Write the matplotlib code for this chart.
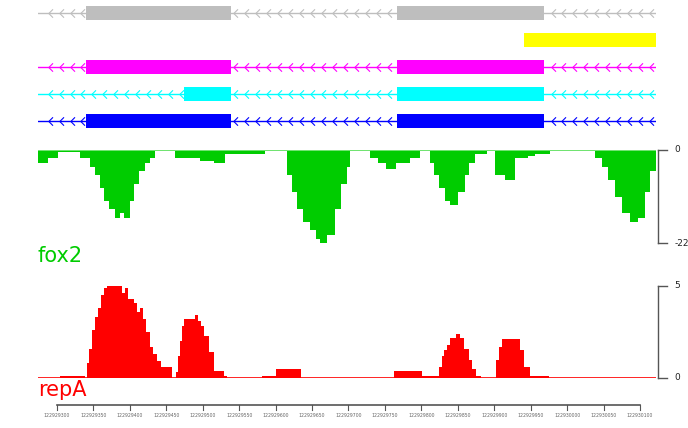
import numpy as np
import matplotlib
matplotlib.use("Agg")
import matplotlib.pyplot as plt
from matplotlib.path import Path

START = 122929300
XMIN, XMAX = -26, 822  # offsets from START

# gene models (offsets from START): exons
transcripts = [
    dict(color="#BEBEBE", exons=[(40, 239), (466, 669)], line=True),
    dict(color="#FFFF00", exons=[(641, 822)], line=False),
    dict(color="#FF00FF", exons=[(40, 239), (466, 669)], line=True),
    dict(color="#00FFFF", exons=[(174, 239), (466, 669)], line=True),
    dict(color="#0000FF", exons=[(40, 239), (466, 669)], line=True),
]

fox2_pos = [-26, -12, 1, 32, 45, 52, 59, 65, 72, 80, 86, 92, 100, 106, 112, 121, 128, 134, 162, 196, 215, 230, 285,
            316, 322, 330, 338, 347, 355, 361, 370, 381, 390, 398, 402, 429, 440, 452, 465, 484, 498, 512, 518, 524,
            532, 540, 550, 560, 566, 573, 590, 601, 615, 628, 646, 656, 676, 738, 748, 756, 766, 775, 786, 797, 807,
            814, 822]
fox2_val = [-3, -2, -0.4, -2, -4, -6, -9, -12, -14, -16, -15, -16, -12, -8, -5, -3, -2, -0.3, -2, -2.5, -3, -1, -0.3,
            -6, -10, -14, -17, -19, -21, -22, -20, -14, -8, -4, -0.3, -2, -3, -4.5, -3, -2, -0.3, -3, -6, -9,
            -12, -13, -10, -6, -3, -1, -0.3, -6, -7, -2, -1.5, -1, -0.3, -2, -4, -7, -11, -15, -17, -16, -10,
            -5, -5]

repA_pos = [4, 38, 41, 44, 48, 52, 56, 60, 64, 68, 89, 94, 97, 106, 110, 114, 118, 122, 127, 132, 137, 143, 158, 163,
            166, 169, 172, 174, 189, 193, 198, 202, 209, 215, 229, 233, 281, 300, 335, 462, 501, 524, 528, 531, 535,
            540, 548, 553, 558, 565, 570, 575, 582, 602, 606, 611, 636, 641, 649, 675, 822]
repA_val = [0.1, 0, 0.8, 1.6, 2.6, 3.3, 3.8, 4.5, 4.9, 5, 4.6, 4.9, 4.3, 4.1, 3.6, 3.8, 3.2, 2.5, 1.7, 1.3, 0.9, 0.6,
            0, 0.3, 1.2, 2.0, 2.8, 3.2, 3.4, 3.1, 2.8, 2.3, 1.4, 0.4, 0.1, 0, 0.1, 0.5, 0, 0.4, 0.1, 0.6, 1.2, 1.5,
            1.8, 2.2, 2.4, 2.2, 1.6, 1.0, 0.5, 0.1, 0, 1.0, 1.7, 2.1, 1.5, 0.6, 0.1, 0, 0]

tick_labels = [str(START + 50 * i) for i in range(17)]

W, H = 688, 428
fig = plt.figure(figsize=(W / 100, H / 100), dpi=100)

def ax_px(x0, y0, x1, y1):
    return fig.add_axes([x0 / W, 1 - y1 / H, (x1 - x0) / W, (y1 - y0) / H])

L, R = 38, 656
chev = Path([(0.6, 1), (-0.4, 0), (0.6, -1)], [Path.MOVETO, Path.LINETO, Path.LINETO])

# gene track
g = ax_px(L, 0, R, 135)
g.set_xlim(START + XMIN, START + XMAX)
g.set_ylim(135, 0)
g.axis("off")
rows_y = [13, 40, 67, 94, 121]
for t, y in zip(transcripts, rows_y):
    c = t["color"]
    if t["line"]:
        g.plot([START + XMIN, START + XMAX], [y, y], color=c, lw=1)
        xs = np.arange(XMIN + 16, XMAX, 15)
        xs = [x for x in xs if not any(a - 3 <= x <= b + 3 for a, b in t["exons"])]
        g.plot(START + np.array(xs), [y] * len(xs), ls="none", marker=chev, ms=6, mec=c, mfc="none", mew=0.8)
    for a, b in t["exons"]:
        g.add_patch(plt.Rectangle((START + a, y - 7), b - a, 14, color=c, lw=0))

# fox2
f = ax_px(L, 150, R, 243)
f.set_xlim(START + XMIN, START + XMAX)
f.set_ylim(-22, 0)
f.axis("off")
f.fill_between(START + np.array(fox2_pos), fox2_val, 0, step="post", color="#00CC00", lw=0)
f.axhline(0, color="#88E888", lw=1.2)
f.plot([1.003, 1.003], [0, -22], color="#555555", lw=1, transform=f.get_yaxis_transform(), clip_on=False)
for v in (0, -22):
    f.plot([1.003, 1.018], [v, v], color="#555555", lw=1, transform=f.get_yaxis_transform(), clip_on=False)
    f.text(1.03, v, str(v), transform=f.get_yaxis_transform(), fontsize=6.5, va="center", color="#222222")
fig.text(L / W, 1 - 256 / H, "fox2", color="#00CC00", fontsize=15, va="center", ha="left")

# repA
r = ax_px(L, 286, R, 378)
r.set_xlim(START + XMIN, START + XMAX)
r.set_ylim(0, 5)
r.axis("off")
r.fill_between(START + np.array(repA_pos), repA_val, 0, step="post", color="#FF0000", lw=0)
r.axhline(0, color="#FF0000", lw=1.2)
r.plot([1.003, 1.003], [0, 5], color="#555555", lw=1, transform=r.get_yaxis_transform(), clip_on=False)
for v in (0, 5):
    r.plot([1.003, 1.018], [v, v], color="#555555", lw=1, transform=r.get_yaxis_transform(), clip_on=False)
    r.text(1.03, v, str(v), transform=r.get_yaxis_transform(), fontsize=6.5, va="center", color="#222222")
fig.text(L / W, 1 - 390 / H, "repA", color="#FF0000", fontsize=15, va="center", ha="left")

# genome axis
a = ax_px(L, 400, R, 420)
a.set_xlim(START + XMIN, START + XMAX)
a.set_ylim(1, 0)
a.axis("off")
ticks = [int(s) for s in tick_labels]
a.plot([ticks[0], ticks[-1]], [0.25, 0.25], color="#555555", lw=1.2)
for tk, lab in zip(ticks, tick_labels):
    a.plot([tk, tk], [0.25, 0.5], color="#555555", lw=0.8)
    a.text(tk, 0.65, lab, fontsize=3.3, color="#666666", ha="center", va="top")

fig.savefig("out.png", dpi=100)
